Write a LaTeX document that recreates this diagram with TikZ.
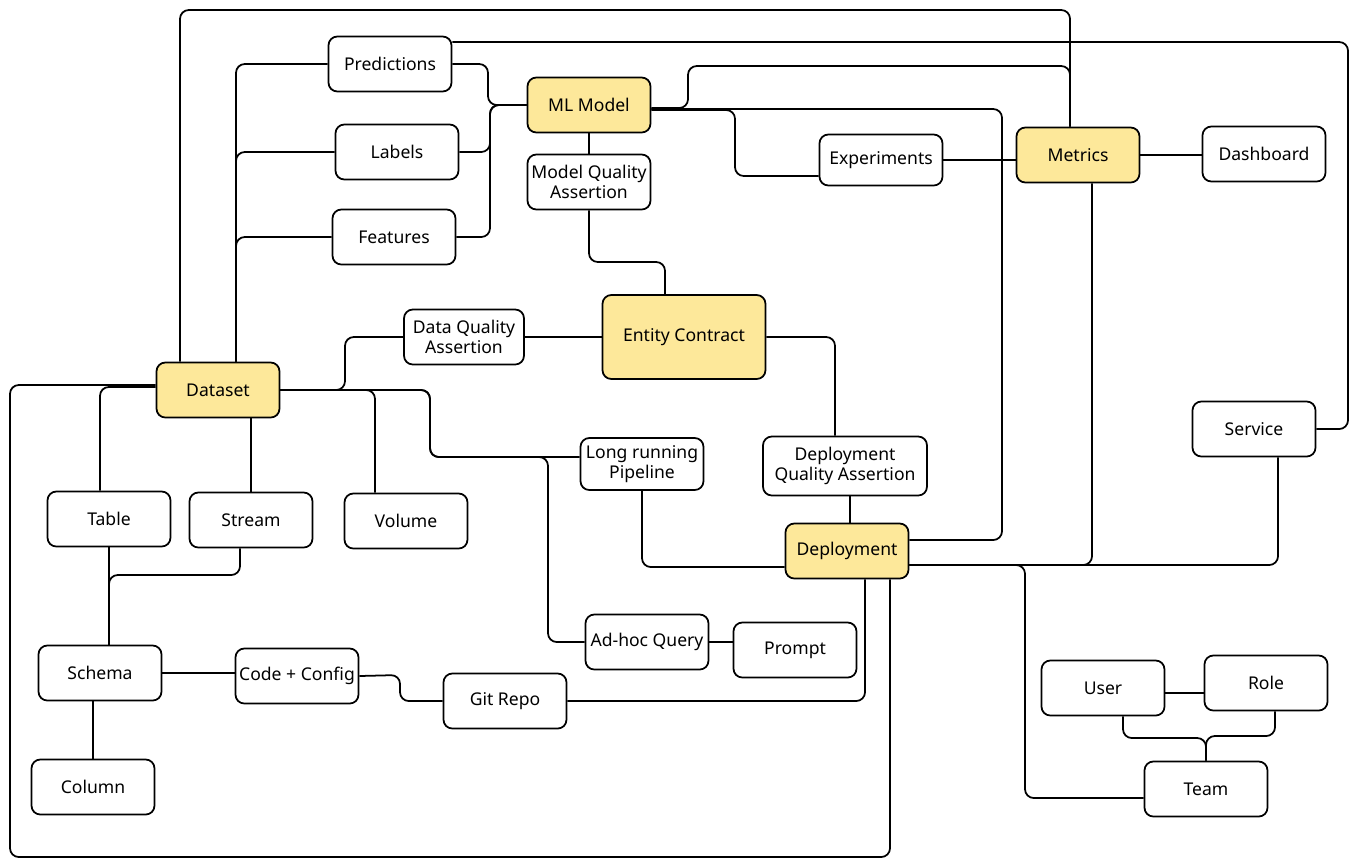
\documentclass[tikz,border=0pt]{standalone}
\usepackage{fontspec}
\setmainfont{Noto Sans}
\usetikzlibrary{calc}
\definecolor{hlyellow}{HTML}{FDE89A}
\tikzset{
  box/.style={draw, line width=1pt, rounded corners=5pt, minimum width=2.46cm, minimum height=1.1cm, inner sep=1pt, align=center, font=\fontsize{10}{11.5}\selectfont, fill=white},
  hl/.style={box, fill=hlyellow},
  conn/.style={draw, line width=1pt, rounded corners=5pt},
}
\begin{document}
\begin{tikzpicture}[x=0.02cm,y=-0.02cm]
\useasboundingbox (0,0) rectangle (1358,867);
\node[box] (pred) at (390,64) {Predictions};
\node[box] (labels) at (397,152) {Labels};
\node[box] (feat) at (394,237) {Features};
\node[hl] (ml) at (589,105) {ML Model};
\node[box] (mqa) at (589,182) {Model Quality\\Assertion};
\node[box, minimum height=1.02cm] (exp) at (881,160) {Experiments};
\node[hl] (metrics) at (1078,155) {Metrics};
\node[box] (dash) at (1264,154) {Dashboard};
\node[hl, minimum width=3.26cm, minimum height=1.68cm] (ec) at (684,337) {Entity Contract};
\node[box, minimum width=2.4cm] (dqa) at (464,337) {Data Quality\\Assertion};
\node[hl] (dataset) at (218,390) {Dataset};
\node[box] (table) at (109,519) {Table};
\node[box] (stream) at (251,520) {Stream};
\node[box] (volume) at (406,521) {Volume};
\node[box, minimum height=1.04cm] (lrp) at (642,464) {Long running\\Pipeline};
\node[box, minimum width=3.28cm, minimum height=1.18cm] (depqa) at (845,466) {Deployment\\Quality Assertion};
\node[hl] (dep) at (847,551) {Deployment};
\node[box] (service) at (1254,429) {Service};
\node[box] (adhoc) at (647,642) {Ad-hoc Query};
\node[box] (prompt) at (795,650) {Prompt};
\node[box] (schema) at (100,673) {Schema};
\node[box] (cc) at (297,676) {Code + Config};
\node[box] (git) at (505,701) {Git Repo};
\node[box] (column) at (93,787) {Column};
\node[box] (user) at (1103,688) {User};
\node[box] (role) at (1266,683) {Role};
\node[box] (team) at (1206,789) {Team};

% connectors
\draw[conn] ($(dataset.north)+(-38,0)$) -- (180,10) -- (1070,10) -- ($(metrics.north)+(-8,0)$);
\draw[conn] ($(dataset.north)+(18,0)$) -- (236,64) -- (pred.west);
\draw[conn] ($(dataset.north)+(18,0)$) -- (236,152) -- (labels.west);
\draw[conn] ($(dataset.north)+(18,0)$) -- (236,237) -- (feat.west);
\draw[conn] (pred.east) -- (488,64) -- (488,105) -- (ml.west);
\draw[conn] (labels.east) -- (490,152) -- (490,105) -- (ml.west);
\draw[conn] (feat.east) -- (490,237) -- (490,105) -- (ml.west);
\draw[conn] ($(pred.east)+(0,-22)$) -- (1348,42) -- (1348,429) -- (service.east);
\draw[conn] ($(ml.east)+(0,3)$) -- (688,108) -- (688,66) -- (1070,66) -- ($(metrics.north)+(-8,0)$);
\draw[conn] ($(ml.east)+(0,4)$) -- (1002,109) -- (1002,540) -- ($(dep.east)+(0,-11)$);
\draw[conn] ($(ml.east)+(0,5)$) -- (735,110) -- (735,176) -- ($(exp.west)+(0,16)$);
\draw[conn] (exp.east) -- (exp.east -| metrics.west);
\draw[conn] (metrics.east) -- (metrics.east -| dash.west);
\draw[conn] (ml.south) -- (mqa.north);
\draw[conn] (mqa.south) -- (589,262) -- (665,262) -- ($(ec.north)+(-19,0)$);
\draw[conn] (dqa.east) -- (ec.west);
\draw[conn] (dataset.east) -- (345,390) -- (345,337) -- (dqa.west);
\draw[conn] (ec.east) -- (835,337) -- ($(depqa.north)+(-10,0)$);
\draw[conn] ($(depqa.south)+(5,0)$) -- ($(dep.north)+(3,0)$);
\draw[conn] (dataset.east) -- (375,390) -- ($(volume.north)+(-31,0)$);
\draw[conn] (dataset.east) -- (430,390) -- (430,457) -- ($(lrp.west)+(0,-7)$);
\draw[conn] (dataset.east) -- (430,390) -- (430,457) -- (548,457) -- (548,642) -- (adhoc.west);
\draw[conn] ($(dataset.west)+(0,-5)$) -- (10,385) -- (10,857) -- (890,857) -- ($(dep.south)+(43,0)$);
\draw[conn] ($(dataset.west)+(0,-3)$) -- (100,387) -- ($(table.north)+(-9,0)$);
\draw[conn] ($(dataset.south)+(33,0)$) -- (stream.north);
\draw[conn] (table.south) -- (table.south |- schema.north);
\draw[conn] ($(stream.south)+(-11,0)$) -- (240,575) -- (109,575) -- (table.south |- schema.north);
\draw[conn] (column.north |- schema.south) -- (column.north);
\draw[conn] (schema.east) -- (schema.east -| cc.west);
\draw[conn] (cc.east) -- (400,675) -- (400,701) -- (git.west);
\draw[conn] (git.east) -- (865,701) -- ($(dep.south)+(18,0)$);
\draw[conn] (adhoc.east) -- (adhoc.east -| prompt.west);
\draw[conn] (lrp.south) -- (642,567) -- ($(dep.west)+(0,16)$);
\draw[conn] ($(dep.east)+(0,14)$) -- (1092,565) -- ($(metrics.south)+(14,0)$);
\draw[conn] ($(dep.east)+(0,14)$) -- (1278,565) -- ($(service.south)+(24,0)$);
\draw[conn] ($(dep.east)+(0,14)$) -- (1025,565) -- (1025,798) -- ($(team.west)+(0,9)$);
\draw[conn] ($(user.south)+(20,0)$) -- (1123,738) -- (1206,738) -- (team.north);
\draw[conn] ($(role.south)+(9,0)$) -- (1275,736) -- (1206,736) -- (team.north);
\draw[conn] ($(user.east)+(0,5)$) -- ($(user.east -| role.west)+(0,5)$);
\end{tikzpicture}
\end{document}
